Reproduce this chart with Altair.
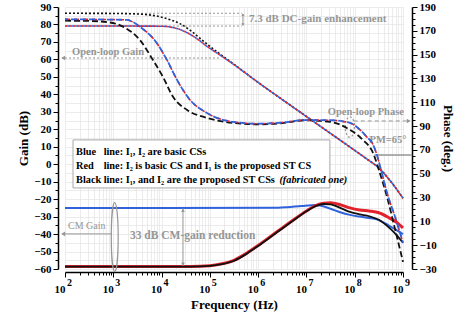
import altair as alt
import pandas as pd

# ---------------- data (log10 of frequency, values) ----------------
# Open-loop gain (dB) - dotted lines
gain_black_logf = [2.0, 3.0, 3.5, 3.97, 4.2, 4.38, 4.6, 4.8, 5.0, 5.15, 5.5, 6.0, 6.5, 7.0, 7.5, 8.0, 8.25, 8.5, 8.75, 9.0]
gain_black_db = [86.4, 86.3, 86.0, 84.4, 82.5, 80.5, 76.5, 72.0, 67.5, 64.3, 57.2, 46.8, 37.0, 27.3, 17.6, 7.9, 3.0, -2.2, -10.0, -19.5]
gain_blue_logf = [2.0, 3.0, 4.0, 4.11, 4.3, 4.53, 4.75, 4.94, 5.15, 5.5, 6.0, 6.5, 7.0, 7.5, 8.0, 8.25, 8.5, 8.75, 9.0]
gain_blue_db = [79.1, 79.1, 79.0, 78.8, 77.8, 75.3, 71.5, 67.5, 63.6, 57.0, 46.8, 37.0, 27.3, 17.6, 7.9, 3.0, -2.2, -10.0, -19.5]
gain_red_db = [79.1, 79.1, 79.0, 78.8, 77.8, 75.3, 71.5, 67.5, 63.6, 57.0, 46.8, 37.0, 27.3, 17.6, 7.9, 3.0, -2.2, -10.0, -19.5]

# Open-loop phase (deg) - dashed lines
phase_black_logf = [2.0, 2.5, 2.93, 3.2, 3.55, 3.82, 4.03, 4.24, 4.53, 4.94, 5.48, 6.0, 6.5, 6.97, 7.49, 7.9, 8.17, 8.38, 8.52, 8.67, 8.85, 9.0]
phase_black_deg = [178.5, 178.3, 177.0, 173.5, 162.3, 145.6, 131.2, 114.4, 103.5, 96.9, 92.7, 91.5, 92.5, 94.9, 93.6, 86.8, 78.4, 67.4, 50.7, 30.4, 1.0, -24.0]
phase_blue_logf = [2.0, 3.28, 3.4, 3.55, 3.9, 4.11, 4.32, 4.59, 4.94, 5.48, 6.0, 6.5, 6.97, 7.49, 7.9, 8.11, 8.25, 8.36, 8.46, 8.56, 8.67, 8.85, 9.0]
phase_blue_deg = [179.7, 179.2, 177.5, 173.5, 159.8, 145.6, 128.8, 112.0, 101.0, 93.5, 92.0, 93.0, 95.0, 94.9, 92.7, 86.8, 80.9, 75.9, 65.8, 50.7, 33.8, 12.0, -8.0]
phase_red_deg = [179.7, 179.2, 177.5, 173.5, 159.8, 145.6, 128.8, 112.0, 101.0, 93.5, 92.0, 93.0, 95.0, 94.9, 92.7, 86.8, 80.9, 75.9, 65.8, 50.7, 33.8, 12.0, -8.0]

# CM gain (dB) - solid lines
cm_blue_logf = [2.0, 6.3, 6.6, 6.9, 7.2, 7.3, 7.5, 7.7, 7.9, 8.1, 8.3, 8.5, 8.7, 8.85, 9.0]
cm_blue_db = [-25.1, -25.0, -24.6, -23.9, -23.4, -23.8, -25.5, -27.5, -29.0, -30.0, -30.8, -32.0, -35.0, -37.5, -40.0]
cm_rb_logf = [2.0, 4.6, 5.0, 5.25, 5.5, 5.75, 6.0, 6.25, 6.5, 6.75, 7.0, 7.2, 7.35, 7.5, 7.7, 7.9, 8.1, 8.3, 8.5, 8.7, 8.85, 9.0]
cm_red_db = [-58.5, -58.5, -58.1, -57.0, -55.0, -51.2, -46.5, -41.5, -36.5, -31.5, -26.8, -23.6, -22.3, -22.1, -23.2, -25.0, -26.2, -26.8, -27.8, -30.5, -33.0, -36.5]
cm_black_db = [-58.6, -58.6, -58.2, -57.2, -55.3, -51.5, -46.8, -41.8, -36.8, -31.8, -27.0, -23.9, -22.8, -23.0, -25.0, -27.3, -28.7, -29.8, -31.8, -36.0, -40.0, -45.0]

# axis ticks / labels
x_exponents = [2, 3, 4, 5, 6, 7, 8, 9]
gain_ticks = list(range(-60, 91, 5))
phase_ticks = list(range(-30, 191, 5))

# legend text
legend_colors = ["Blue", "Red", "Black"]
legend_texts = ["line: I\u2081, I\u2082 are basic CSs",
                "line: I\u2082 is basic CS and I\u2081 is the proposed ST CS",
                "line: I\u2081, and I\u2082 are the proposed ST CSs"]
legend_italic = "(fabricated one)"

BLUE = "#2f62dc"
RED = "#e3232b"
BLACK = "#111111"
GRAY = "#969696"
FONT = "Liberation Serif, Times New Roman, Times, serif"


def f(lf):
    return 10 ** lf


def curve(logf, vals):
    return pd.DataFrame({"f": [f(v) for v in logf], "v": vals})


major_x = "abs(log(datum.value)/LN10 - round(log(datum.value)/LN10)) < 0.001"
xvals = [m * 10 ** e for e in range(2, 9) for m in range(1, 10)] + [10 ** 9]

XS = alt.Scale(type="log", domain=[1e2, 1e9], nice=False)
YG = alt.Scale(domain=[-60, 90], nice=False, zero=False)
YP = alt.Scale(domain=[-30, 190], nice=False, zero=False)

XAX = alt.Axis(values=xvals, labelExpr=major_x + " ? '10' : ''", labelAlign="right",
               labelFlush=False, labelOverlap=False,
               tickSize={"condition": {"test": major_x, "value": 5}, "value": 3},
               grid=True, gridColor="#e4e4e4", gridWidth=0.7, offset=3,
               labelPadding=6, title="Frequency (Hz)", titlePadding=4, orient="bottom")
YGAX = alt.Axis(values=gain_ticks, labelExpr="datum.value % 10 == 0 ? datum.label : ''",
                tickSize={"condition": {"test": "datum.value % 10 == 0", "value": 5}, "value": 3},
                grid=True, gridColor="#e4e4e4", gridWidth=0.7, offset=7, labelPadding=2,
                title="Gain (dB)", titlePadding=3, orient="left", labelOverlap=False)
YPAX = alt.Axis(values=phase_ticks, labelExpr="(datum.value + 30) % 20 == 0 ? datum.label : ''",
                tickSize={"condition": {"test": "(datum.value + 30) % 20 == 0", "value": 5}, "value": 3},
                grid=False, offset=9, labelPadding=2, title="Phase (deg.)", titlePadding=4,
                orient="right", labelOverlap=False)

XE = alt.X("f:Q", scale=XS, axis=XAX)
YGE = alt.Y("v:Q", scale=YG, axis=YGAX)
YPE = alt.Y("v:Q", scale=YP, axis=YPAX)


def line(df, color, width, dash=None, offset=None, y=YGE):
    kw = dict(color=color, strokeWidth=width, interpolate="monotone")
    if dash is not None:
        kw["strokeDash"] = dash
    if offset is not None:
        kw["strokeDashOffset"] = offset
    return alt.Chart(df).mark_line(**kw).encode(x=XE, y=y)


def hrule(l1, l2, v, dash=None, color=GRAY, width=1.0):
    df = pd.DataFrame({"f": [f(l1)], "f2": [f(l2)], "v": [v]})
    kw = dict(color=color, strokeWidth=width)
    if dash is not None:
        kw["strokeDash"] = dash
    return alt.Chart(df).mark_rule(**kw).encode(x=XE, x2="f2:Q", y=YGE)


def vrule(lf, v1, v2, color=GRAY, width=1.0):
    df = pd.DataFrame({"f": [f(lf)], "v": [v1], "v2": [v2]})
    return alt.Chart(df).mark_rule(color=color, strokeWidth=width).encode(x=XE, y=YGE, y2="v2:Q")


def head(lf, v, shape, size=22, color=GRAY):
    df = pd.DataFrame({"f": [f(lf)], "v": [v]})
    return alt.Chart(df).mark_point(shape=shape, size=size, filled=True, color=color, opacity=1).encode(x=XE, y=YGE)


def label(lf, v, text, size=11, align="left", color=GRAY, weight="bold", style="normal"):
    df = pd.DataFrame({"f": [f(lf)], "v": [v], "t": [text]})
    return alt.Chart(df).mark_text(align=align, baseline="middle", font=FONT, fontSize=size,
                                   fontWeight=weight, fontStyle=style, color=color).encode(
        x=XE, y=YGE, text="t:N")


def ellipse(lf, v, a, size, dash=None):
    k = 0.5523
    p = (f"M0,-1C{a*k:.3f},-1,{a},{-k},{a},0C{a},{k},{a*k:.3f},1,0,1"
         f"C{-a*k:.3f},1,{-a},{k},{-a},0C{-a},{-k},{-a*k:.3f},-1,0,-1Z")
    df = pd.DataFrame({"f": [f(lf)], "v": [v]})
    kw = dict(shape=p, size=size, filled=False, color=GRAY, strokeWidth=1.2, opacity=1)
    if dash is not None:
        kw["strokeDash"] = dash
    return alt.Chart(df).mark_point(**kw).encode(x=XE, y=YGE)


# ---------------- gain-scale layers ----------------
gain_layers = [
    hrule(2.0, 5.66, 86.4, dash=[2, 2]),
    hrule(2.0, 5.66, 79.1, dash=[2, 2]),
    hrule(2.0, 5.2, 60.8, dash=[2, 2]),
    head(1.96, 60.8, "triangle-left"),
    label(2.145, 64.2, "Open-loop Gain", size=10.5),
    vrule(5.685, 86.0, 79.5),
    head(5.685, 85.6, "triangle-up", size=10),
    head(5.685, 79.9, "triangle-down", size=10),
    label(5.81, 83.0, "7.3 dB DC-gain enhancement", size=11),
    # CM gain
    line(curve(cm_blue_logf, cm_blue_db), BLUE, 2.0),
    line(curve(cm_rb_logf, cm_red_db), RED, 3.0),
    line(curve(cm_rb_logf, cm_black_db), BLACK, 1.8),
    # open-loop gain (dotted)
    line(curve(gain_black_logf, gain_black_db), BLACK, 1.6, dash=[2, 2]),
    line(curve(gain_blue_logf, gain_red_db), RED, 1.6, dash=[2, 2]),
    line(curve(gain_blue_logf, gain_blue_db), BLUE, 1.6, dash=[2, 2], offset=2),
    # CM annotations
    hrule(2.0, 2.97, -39.9),
    head(1.96, -39.9, "triangle-left"),
    label(2.062, -35.4, "CM Gain", size=10, weight="normal"),
    ellipse(3.03, -41.7, 0.1, 4761),
    vrule(4.443, -25.4, -58.2),
    head(4.443, -26.4, "triangle-up", size=14),
    head(4.443, -57.2, "triangle-down", size=14),
    label(3.346, -41.1, "33 dB CM-gain reduction", size=11.5),
    # phase annotations
    hrule(7.98, 9.1, 24.75, dash=[4, 3]),
    head(9.12, 24.75, "triangle-right"),
    label(8.23, 29.9, "Open-loop Phase", size=10.5, align="center"),
    ellipse(7.9, 21.3, 0.45, 420, dash=[2, 2]),
    hrule(8.41, 9.19, 5.3, width=1.5),
    label(8.69, 13.9, "PM=65\u00b0", size=10.5, align="center"),
]

# legend box
box_df = pd.DataFrame({"f": [f(2.166)], "f2": [f(7.486)], "v": [13.9], "v2": [-13.6]})
gain_layers.append(alt.Chart(box_df).mark_rect(fill="white", stroke="#a8a8a8", strokeWidth=1).encode(
    x=XE, x2="f2:Q", y=YGE, y2="v2:Q"))
row_v = [6.9, -1.1, -9.0]
for c, t, v in zip(legend_colors, legend_texts, row_v):
    gain_layers.append(label(2.228, v, c, size=10.3, color="black"))
    gain_layers.append(label(2.80, v, t, size=10.3, color="black"))
gain_layers.append(label(6.44, -9.0, legend_italic, size=10.3, color="black", style="italic"))

# x-axis exponents
exp_df = pd.DataFrame({"f": [f(e) for e in x_exponents], "t": [str(e) for e in x_exponents]})
gain_layers.append(alt.Chart(exp_df).mark_text(align="left", baseline="middle", font=FONT, fontSize=10,
                                               fontWeight="bold", color="black", dx=2).encode(
    x=XE, y=alt.value(276), text="t:N"))

gain_chart = alt.layer(*gain_layers)

# ---------------- phase-scale layers ----------------
phase_chart = alt.layer(
    line(curve(phase_black_logf, phase_black_deg), BLACK, 1.8, dash=[6, 3], y=YPE),
    line(curve(phase_blue_logf, phase_red_deg), RED, 1.6, dash=[5, 4], y=YPE),
    line(curve(phase_blue_logf, phase_blue_deg), BLUE, 1.8, dash=[6, 3], offset=3, y=YPE),
)

chart = alt.layer(gain_chart, phase_chart).resolve_scale(y="independent").properties(
    width=338, height=262,
    autosize=alt.AutoSizeParams(type="none"),
    padding={"left": 65, "top": 7, "right": 71, "bottom": 65},
).configure_view(stroke=None).configure_axis(
    labelFont=FONT, labelFontWeight="bold", labelFontSize=11, labelColor="black",
    titleFont=FONT, titleFontWeight="bold", titleFontSize=13, titleColor="black",
    domainColor="black", domainWidth=1.5, tickColor="black", tickWidth=1,
)

chart.save("out.html", embed_options={"renderer": "svg", "actions": False})
